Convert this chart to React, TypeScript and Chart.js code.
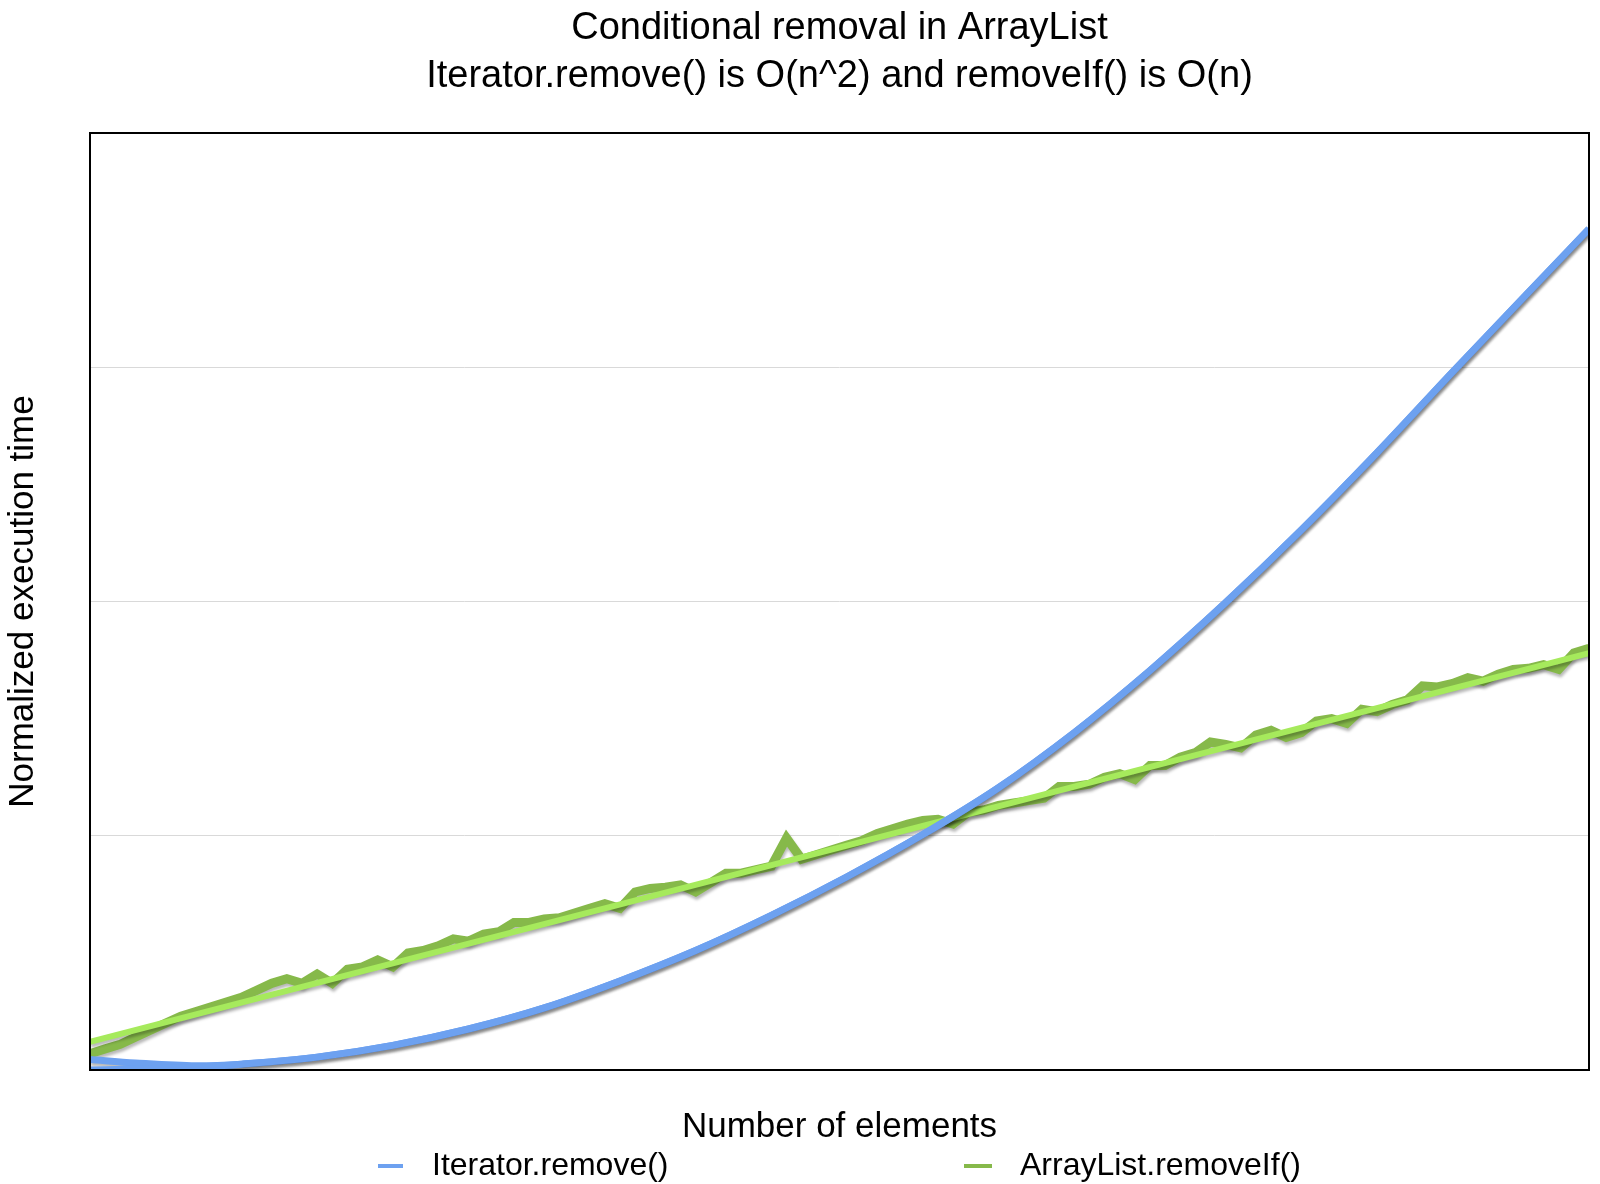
import React, { useEffect, useRef } from "react";
import { Chart, registerables } from "chart.js";

Chart.register(...registerables);

const titleLines = ["Conditional removal in ArrayList", "Iterator.remove() is O(n^2) and removeIf() is O(n)"];
const xAxisTitle = "Number of elements";
const yAxisTitle = "Normalized execution time";
const seriesNames = ["Iterator.remove()", "ArrayList.removeIf()"];

// sample positions (relative sample number, no tick labels shown)
const blueIndex = [0, 3, 7, 10, 15, 20, 25, 30, 35, 40, 45, 50, 55, 60, 65, 70, 75, 80, 85, 90, 95, 99];
const iteratorRemove = [0.045, 0.03, 0.018, 0.025, 0.055, 0.105, 0.175, 0.265, 0.38, 0.51, 0.66, 0.825, 1.005, 1.205, 1.44, 1.705, 1.995, 2.305, 2.635, 2.98, 3.32, 3.59];
const iteratorTrend = [0.0, 0.004, 0.012, 0.025, 0.055, 0.105, 0.175, 0.265, 0.38, 0.51, 0.66, 0.825, 1.005, 1.205, 1.44, 1.705, 1.995, 2.305, 2.635, 2.98, 3.32, 3.59];

const removeIf = [
  0.07, 0.09, 0.11, 0.14, 0.17, 0.2, 0.23, 0.25, 0.27, 0.29,
  0.31, 0.34, 0.37, 0.39, 0.37, 0.41, 0.37, 0.43, 0.44, 0.47,
  0.44, 0.5, 0.51, 0.53, 0.56, 0.55, 0.58, 0.59, 0.63, 0.63,
  0.645, 0.65, 0.67, 0.69, 0.71, 0.69, 0.76, 0.775, 0.78, 0.79,
  0.76, 0.8, 0.84, 0.84, 0.855, 0.87, 0.99, 0.9, 0.92, 0.94,
  0.96, 0.98, 1.01, 1.03, 1.05, 1.065, 1.07, 1.05, 1.1, 1.11,
  1.13, 1.14, 1.15, 1.16, 1.21, 1.21, 1.22, 1.25, 1.265, 1.24,
  1.3, 1.3, 1.335, 1.355, 1.4, 1.39, 1.375, 1.43, 1.45, 1.42,
  1.44, 1.49, 1.5, 1.48, 1.54, 1.53, 1.56, 1.58, 1.64, 1.635,
  1.65, 1.675, 1.66, 1.69, 1.71, 1.715, 1.73, 1.71, 1.78, 1.8,
];
const greenTrendIndex = [0, 99];
const removeIfTrend = [0.12, 1.78];

const yMin = 0;
const yMax = 4;

const BLUE = "#6da1f0";
const GREEN = "#86b94a";
const LIGHT_GREEN = "#a6ea5c";
const FONT = "'Liberation Sans', Arial, Helvetica, sans-serif";

export default function App() {
  const ref = useRef<HTMLCanvasElement | null>(null);

  useEffect(() => {
    const canvas = ref.current;
    if (!canvas) return;

    const shadowPlugin = {
      id: "lineShadow",
      beforeDatasetDraw(chart: any) {
        const ctx = chart.ctx;
        ctx.save();
        ctx.shadowColor = "rgba(0,0,0,0.28)";
        ctx.shadowOffsetX = 1;
        ctx.shadowOffsetY = 3;
        ctx.shadowBlur = 3;
      },
      afterDatasetDraw(chart: any) {
        chart.ctx.restore();
      },
    };

    const decorPlugin = {
      id: "decor",
      afterDraw(chart: any) {
        const ctx = chart.ctx as CanvasRenderingContext2D;
        const a = chart.chartArea;
        ctx.save();
        ctx.strokeStyle = "#000";
        ctx.lineWidth = 2;
        ctx.strokeRect(a.left, a.top, a.right - a.left, a.bottom - a.top);
        const cx = (a.left + a.right) / 2;
        ctx.fillStyle = "#000";
        ctx.textAlign = "center";
        ctx.textBaseline = "middle";
        ctx.font = `38px ${FONT}`;
        ctx.fillText(titleLines[0], cx, 29);
        ctx.fillText(titleLines[1], cx, 77);
        ctx.font = `35px ${FONT}`;
        ctx.fillText(xAxisTitle, cx, 1127);
        ctx.save();
        ctx.translate(23, (a.top + a.bottom) / 2);
        ctx.rotate(-Math.PI / 2);
        ctx.fillText(yAxisTitle, 0, 0);
        ctx.restore();
        ctx.font = `32px ${FONT}`;
        ctx.textAlign = "left";
        const ly = 1166;
        ctx.fillStyle = BLUE;
        ctx.fillRect(378, ly - 2, 25, 4);
        ctx.fillStyle = GREEN;
        ctx.fillRect(964, ly - 2, 28, 4);
        ctx.fillStyle = "#000";
        ctx.fillText(seriesNames[0], 432, ly);
        ctx.fillText(seriesNames[1], 1020, ly);
        ctx.restore();
      },
    };

    const toPts = (xs: number[], ys: number[]) => ys.map((y, i) => ({ x: xs[i], y }));
    const greenIdx = removeIf.map((_, i) => i);

    const chart = new Chart(canvas, {
      type: "line",
      data: {
        datasets: [
          {
            label: seriesNames[1],
            data: toPts(greenIdx, removeIf),
            borderColor: GREEN,
            borderWidth: 9,
            pointRadius: 0,
            tension: 0,
            borderJoinStyle: "miter",
            order: 4,
          },
          {
            label: "removeIf trend",
            data: toPts(greenTrendIndex, removeIfTrend),
            borderColor: LIGHT_GREEN,
            borderWidth: 6,
            pointRadius: 0,
            order: 3,
          },
          {
            label: seriesNames[0],
            data: toPts(blueIndex, iteratorRemove),
            borderColor: BLUE,
            borderWidth: 7,
            pointRadius: 0,
            cubicInterpolationMode: "monotone",
            order: 2,
          },
          {
            label: "Iterator trend",
            data: toPts(blueIndex, iteratorTrend),
            borderColor: BLUE,
            borderWidth: 7,
            pointRadius: 0,
            cubicInterpolationMode: "monotone",
            order: 1,
          },
        ],
      },
      options: {
        responsive: false,
        animation: false,
        events: [],
        layout: { padding: { left: 90, top: 133, right: 11, bottom: 114 } },
        plugins: { legend: { display: false }, title: { display: false }, tooltip: { enabled: false } },
        scales: {
          x: {
            type: "linear",
            min: 0,
            max: 99,
            ticks: { display: false },
            grid: { display: false, drawTicks: false },
            border: { display: false },
            afterFit: (s: any) => { s.height = 0; },
          },
          y: {
            min: yMin,
            max: yMax,
            ticks: { display: false, stepSize: 1 },
            grid: { color: "#d9d9d9", lineWidth: 1, drawTicks: false },
            border: { display: false },
            afterFit: (s: any) => { s.width = 0; },
          },
        },
      },
      plugins: [shadowPlugin, decorPlugin],
    } as any);

    return () => chart.destroy();
  }, []);

  return (
    <div style={{ position: "fixed", left: 0, top: 0, width: 1600, height: 1184, background: "#fff" }}>
      <canvas ref={ref} width={1600} height={1184} style={{ display: "block" }} />
    </div>
  );
}
